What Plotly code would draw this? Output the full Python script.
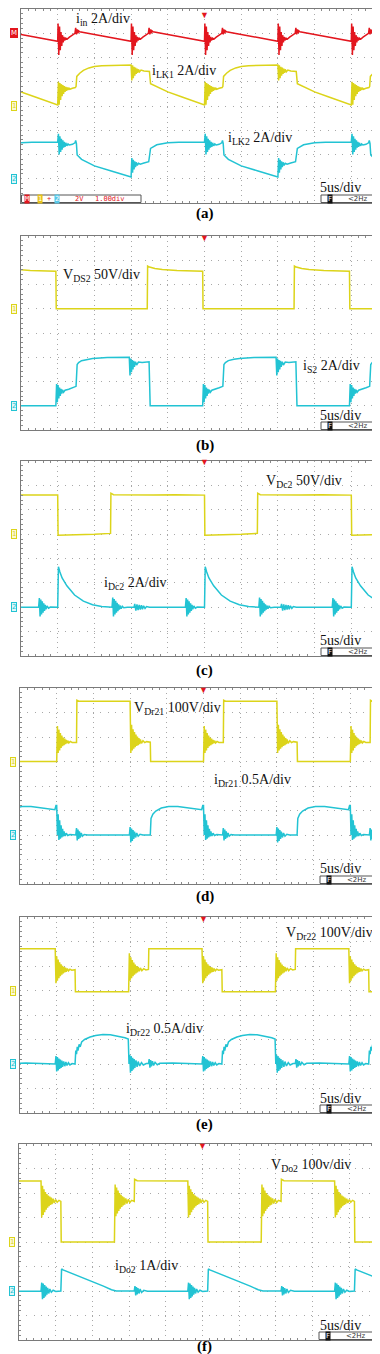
import plotly.graph_objects as go

W, H = 380, 1354

# ---------------- data (time and amplitude in scope divisions) ----------------
# one period of each waveform as (t, value) pairs, and the period start times
IIN = [(0.00, 2.67), (0.01, 3.40), (0.03, 2.10), (0.05, 3.28), (0.07, 2.30), (0.09, 3.05),
       (0.11, 2.48), (0.13, 2.92), (0.15, 2.62), (0.17, 2.85), (0.19, 2.70), (0.22, 2.80),
       (0.26, 2.76), (0.32, 2.84), (0.40, 2.92), (0.47, 3.00), (0.49, 3.22), (0.51, 2.95),
       (0.53, 3.16), (0.55, 3.00), (0.57, 3.10), (0.60, 3.06), (1.00, 2.95), (1.50, 2.81),
       (2.00, 2.67)]
IIN_STARTS = [-1, 1, 3, 5, 7, 9]

ILK1 = [(0.00, 0.04), (0.02, 1.00), (0.04, 0.05), (0.06, 0.95), (0.08, 0.25), (0.10, 0.90),
        (0.12, 0.40), (0.14, 0.86), (0.16, 0.50), (0.18, 0.82), (0.20, 0.58), (0.22, 0.79),
        (0.24, 0.63), (0.26, 0.77), (0.28, 0.66), (0.30, 0.75), (0.33, 0.69), (0.40, 0.73),
        (0.48, 0.76), (0.50, 0.80), (0.52, 1.22), (0.60, 1.35), (0.70, 1.47), (0.85, 1.57),
        (1.00, 1.63), (1.20, 1.66), (1.50, 1.68), (2.00, 1.69), (2.02, 1.05), (2.04, 1.68),
        (2.06, 1.15), (2.08, 1.62), (2.10, 1.25), (2.12, 1.58), (2.14, 1.32), (2.16, 1.54),
        (2.18, 1.37), (2.20, 1.51), (2.23, 1.41), (2.27, 1.48), (2.35, 1.44), (2.50, 1.42),
        (2.53, 0.92), (2.65, 0.84), (3.00, 0.58), (3.37, 0.38), (3.73, 0.19), (4.00, 0.04)]
ILK1_STARTS = [-3, 1, 5, 9]

ILK2 = [(0.00, -1.48), (0.02, -1.15), (0.04, -2.00), (0.06, -1.25), (0.08, -1.90), (0.10, -1.35),
        (0.12, -1.80), (0.14, -1.42), (0.16, -1.72), (0.18, -1.48), (0.20, -1.68), (0.22, -1.52),
        (0.25, -1.64), (0.28, -1.56), (0.32, -1.61), (0.40, -1.58), (0.47, -1.52), (0.49, -1.42),
        (0.51, -1.55), (0.53, -2.02), (0.65, -2.20), (1.00, -2.47), (1.46, -2.68), (2.00, -2.93),
        (2.02, -2.15), (2.04, -2.75), (2.06, -2.22), (2.08, -2.62), (2.10, -2.28), (2.12, -2.52),
        (2.14, -2.32), (2.17, -2.45), (2.20, -2.36), (2.25, -2.40), (2.35, -2.35), (2.48, -2.30),
        (2.53, -1.75), (2.70, -1.60), (3.00, -1.52), (3.30, -1.49), (4.00, -1.48)]
ILK2_STARTS = [-3, 1, 5, 9]

VDS2 = [(0.00, 2.55), (0.01, 1.00), (2.49, 1.00), (2.50, 2.76), (2.55, 2.72), (2.70, 2.66),
        (2.90, 2.62), (3.30, 2.58), (4.00, 2.55)]
VDS2_STARTS = [-3.05, 0.95, 4.95, 8.95]

IS2 = [(0.00, -3.00), (0.02, -2.10), (0.04, -2.85), (0.06, -2.15), (0.08, -2.70), (0.10, -2.25),
       (0.12, -2.60), (0.14, -2.30), (0.16, -2.50), (0.18, -2.34), (0.21, -2.44), (0.25, -2.36),
       (0.35, -2.32), (0.45, -2.26), (0.55, -2.20), (0.58, -1.30), (0.62, -1.22), (0.70, -1.14),
       (0.85, -1.08), (1.00, -1.05), (1.40, -1.01), (2.00, -1.00), (2.02, -1.75), (2.04, -1.05),
       (2.06, -1.62), (2.08, -1.12), (2.10, -1.50), (2.12, -1.15), (2.14, -1.40), (2.17, -1.18),
       (2.20, -1.32), (2.25, -1.20), (2.35, -1.22), (2.54, -1.19), (2.57, -3.00), (4.00, -3.00)]
IS2_STARTS = [-3.05, 0.95, 4.95, 8.95]

VDC2 = [(0.00, 2.60), (0.01, 0.95), (0.50, 0.96), (1.00, 0.99), (1.44, 1.03), (1.45, 2.68),
        (1.52, 2.62), (2.00, 2.61), (2.60, 2.60), (3.20, 2.62), (4.00, 2.60)]
VDC2_STARTS = [-3, 1, 5, 9]

IDC2 = [(0.00, -2.00), (0.02, -0.34), (0.06, -0.55), (0.12, -0.80), (0.25, -1.12), (0.46, -1.50),
        (0.70, -1.75), (0.95, -1.90), (1.20, -1.97), (1.48, -2.00),
        (1.50, -1.60), (1.52, -2.38), (1.54, -1.66), (1.56, -2.30), (1.58, -1.74), (1.60, -2.22),
        (1.62, -1.82), (1.64, -2.16), (1.66, -1.88), (1.68, -2.10), (1.70, -1.93), (1.73, -2.06),
        (1.76, -1.96), (1.80, -2.02), (1.90, -2.00), (2.08, -2.00),
        (2.10, -1.86), (2.13, -2.14), (2.16, -1.88), (2.19, -2.12), (2.22, -1.90), (2.25, -2.10),
        (2.28, -1.92), (2.31, -2.08), (2.34, -1.94), (2.38, -2.05), (2.42, -1.97), (2.50, -2.00),
        (3.48, -2.00),
        (3.50, -1.62), (3.52, -2.38), (3.54, -1.68), (3.56, -2.30), (3.58, -1.76), (3.60, -2.22),
        (3.62, -1.84), (3.64, -2.15), (3.66, -1.90), (3.68, -2.08), (3.71, -1.95), (3.75, -2.04),
        (3.80, -1.99), (4.00, -2.00)]
IDC2_STARTS = [-3, 1, 5, 9]

VDR21 = [(0.00, 1.00), (0.02, 2.45), (0.04, 1.35), (0.06, 2.30), (0.08, 1.45), (0.10, 2.16),
         (0.12, 1.55), (0.14, 2.06), (0.16, 1.62), (0.18, 1.98), (0.20, 1.67), (0.22, 1.93),
         (0.24, 1.71), (0.26, 1.88), (0.28, 1.74), (0.30, 1.85), (0.33, 1.76), (0.37, 1.82),
         (0.42, 1.78), (0.54, 1.78), (0.55, 3.50), (0.60, 3.46), (2.00, 3.46), (2.02, 1.35),
         (2.04, 2.50), (2.06, 1.45), (2.08, 2.32), (2.10, 1.52), (2.12, 2.20), (2.14, 1.58),
         (2.16, 2.10), (2.18, 1.63), (2.20, 2.02), (2.22, 1.67), (2.24, 1.96), (2.26, 1.71),
         (2.28, 1.90), (2.31, 1.74), (2.35, 1.85), (2.40, 1.77), (2.45, 1.81), (2.55, 1.79),
         (2.56, 1.00), (4.00, 1.00)]
VDR21_STARTS = [-3, 1, 5, 9]

IDR21 = [(0.00, -0.80), (0.02, -2.00), (0.04, -1.15), (0.06, -2.20), (0.08, -1.40), (0.10, -2.15),
         (0.12, -1.60), (0.14, -2.10), (0.16, -1.75), (0.18, -2.06), (0.20, -1.85), (0.23, -2.04),
         (0.26, -1.93), (0.30, -2.02), (0.36, -1.98), (0.52, -2.00),
         (0.54, -1.72), (0.56, -2.22), (0.58, -1.78), (0.60, -2.16), (0.62, -1.85), (0.64, -2.10),
         (0.67, -1.92), (0.70, -2.05), (0.75, -1.98), (0.85, -2.00), (1.98, -2.00),
         (2.00, -1.68), (2.02, -2.30), (2.04, -1.74), (2.06, -2.24), (2.08, -1.80), (2.10, -2.16),
         (2.12, -1.86), (2.15, -2.10), (2.18, -1.92), (2.22, -2.05), (2.27, -1.97), (2.35, -2.00),
         (2.55, -2.00), (2.57, -1.32), (2.62, -1.15), (2.70, -1.02), (2.85, -0.90), (3.05, -0.84),
         (3.30, -0.84), (3.60, -0.89), (3.85, -0.94), (3.95, -0.97), (3.98, -0.80), (4.00, -0.80)]
IDR21_STARTS = [-3, 1, 5, 9]

VDR22 = [(0.00, 2.70), (0.02, 1.30), (0.04, 2.40), (0.06, 1.40), (0.08, 2.26), (0.10, 1.50),
         (0.12, 2.15), (0.14, 1.58), (0.16, 2.07), (0.18, 1.65), (0.20, 2.01), (0.22, 1.70),
         (0.24, 1.96), (0.26, 1.74), (0.28, 1.93), (0.30, 1.77), (0.33, 1.90), (0.36, 1.80),
         (0.40, 1.87), (0.45, 1.83), (0.54, 1.85), (0.55, 0.95), (2.00, 0.95), (2.02, 2.52),
         (2.04, 1.40), (2.06, 2.36), (2.08, 1.50), (2.10, 2.24), (2.12, 1.58), (2.14, 2.14),
         (2.16, 1.65), (2.18, 2.06), (2.20, 1.70), (2.22, 2.00), (2.24, 1.74), (2.26, 1.96),
         (2.29, 1.78), (2.32, 1.92), (2.36, 1.81), (2.41, 1.89), (2.47, 1.84), (2.54, 1.86),
         (2.55, 2.70), (4.00, 2.70)]
VDR22_STARTS = [-3.04, 0.96, 4.96, 8.96]

IDR22 = [(0.00, -2.00), (0.02, -1.68), (0.04, -2.30), (0.06, -1.72), (0.08, -2.26), (0.10, -1.78),
         (0.12, -2.20), (0.14, -1.82), (0.16, -2.16), (0.18, -1.86), (0.20, -2.12), (0.23, -1.89),
         (0.26, -2.09), (0.29, -1.92), (0.32, -2.06), (0.36, -1.95), (0.40, -2.04), (0.46, -1.98),
         (0.54, -2.00), (0.56, -1.45), (0.58, -1.60), (0.60, -1.30), (0.62, -1.45), (0.65, -1.20),
         (0.68, -1.30), (0.72, -1.10), (0.80, -1.00), (0.95, -0.90), (1.10, -0.84), (1.30, -0.80),
         (1.50, -0.81), (1.70, -0.86), (1.90, -0.93), (1.99, -0.98), (2.01, -2.00), (2.03, -1.62),
         (2.05, -2.36), (2.07, -1.68), (2.09, -2.28), (2.11, -1.75), (2.13, -2.22), (2.15, -1.80),
         (2.17, -2.16), (2.20, -1.85), (2.23, -2.12), (2.26, -1.90), (2.30, -2.08), (2.35, -1.94),
         (2.40, -2.04), (2.48, -1.98), (2.54, -1.98), (2.56, -1.80), (2.58, -2.15), (2.60, -1.84),
         (2.62, -2.10), (2.65, -1.88), (2.68, -2.06), (2.72, -1.93), (2.78, -2.03), (2.85, -1.97),
         (3.20, -1.96), (4.00, -2.00)]
IDR22_STARTS = [-3.04, 0.96, 4.96, 8.96]

VDO2 = [(0.00, 2.49), (0.02, 1.00), (0.04, 2.30), (0.06, 1.10), (0.08, 2.15), (0.10, 1.22),
        (0.12, 2.04), (0.14, 1.32), (0.16, 1.96), (0.18, 1.40), (0.20, 1.90), (0.22, 1.46),
        (0.24, 1.85), (0.26, 1.51), (0.28, 1.81), (0.30, 1.55), (0.33, 1.77), (0.36, 1.59),
        (0.40, 1.73), (0.44, 1.62), (0.49, 1.70), (0.54, 1.66), (0.55, 0.00), (2.00, 0.00),
        (2.02, 2.35), (2.04, 1.05), (2.06, 2.22), (2.08, 1.16), (2.10, 2.10), (2.12, 1.27),
        (2.14, 2.00), (2.16, 1.36), (2.18, 1.93), (2.20, 1.43), (2.22, 1.87), (2.24, 1.49),
        (2.26, 1.82), (2.28, 1.53), (2.31, 1.78), (2.34, 1.57), (2.38, 1.74), (2.42, 1.61),
        (2.47, 1.70), (2.54, 1.66), (2.55, 2.56), (2.62, 2.50), (4.00, 2.49)]
VDO2_STARTS = [-3.4, 0.6, 4.6, 8.6]

IDO2 = [(0.00, -2.00), (0.02, -1.66), (0.04, -2.34), (0.06, -1.70), (0.08, -2.28), (0.10, -1.76),
        (0.12, -2.22), (0.14, -1.82), (0.16, -2.15), (0.18, -1.87), (0.21, -2.10), (0.24, -1.92),
        (0.28, -2.05), (0.33, -1.97), (0.40, -2.02), (0.54, -2.00), (0.56, -1.10), (0.60, -1.14),
        (0.70, -1.20), (1.00, -1.38), (1.37, -1.57), (1.70, -1.80), (1.92, -1.95), (2.05, -2.00),
        (2.54, -2.00), (2.56, -1.80), (2.58, -2.18), (2.60, -1.84), (2.62, -2.14), (2.64, -1.88),
        (2.67, -2.10), (2.70, -1.92), (2.74, -2.06), (2.80, -1.97), (2.90, -2.01), (4.00, -2.00)]
IDO2_STARTS = [-3.4, 0.6, 4.6, 8.6]

RED, YEL, CYA = "#e3161e", "#dcd41a", "#22c3d3"
SERIF = "Liberation Serif"

# panel geometry in page pixels: (top, bottom, left, right)
PANELS = [
    dict(box=(1, 195, 13, 380), traces=[(IIN, IIN_STARTS, RED), (ILK1, ILK1_STARTS, YEL), (ILK2, ILK2_STARTS, CYA)],
         labels=[("i<sub>in</sub> 2A/div", 95, 12), ("i<sub>LK1</sub> 2A/div", 176, 63), ("i<sub>LK2</sub> 2A/div", 252, 130)],
         chans=[("M", RED, 3.0), ("1", YEL, 0.0), ("2", CYA, -3.0)], cap="(a)", capy=205),
    dict(box=(228, 422, 13, 380), traces=[(VDS2, VDS2_STARTS, YEL), (IS2, IS2_STARTS, CYA)],
         labels=[("V<sub>DS2</sub> 50V/div", 93, 268), ("i<sub>S2</sub> 2A/div", 323, 358)],
         chans=[("1", YEL, 1.0), ("2", CYA, -3.0)], cap="(b)", capy=437),
    dict(box=(453, 648, 13, 380), traces=[(VDC2, VDC2_STARTS, YEL), (IDC2, IDC2_STARTS, CYA)],
         labels=[("V<sub>Dc2</sub> 50V/div", 296, 473), ("i<sub>Dc2</sub> 2A/div", 127, 575)],
         chans=[("1", YEL, 1.0), ("2", CYA, -2.0)], cap="(c)", capy=662),
    dict(box=(680, 876, 12, 379), traces=[(VDR21, VDR21_STARTS, YEL), (IDR21, IDR21_STARTS, CYA)],
         labels=[("V<sub>Dr21</sub> 100V/div", 169, 700), ("i<sub>Dr21</sub> 0.5A/div", 244, 772)],
         chans=[("1", YEL, 1.0), ("2", CYA, -2.0)], cap="(d)", capy=888),
    dict(box=(909, 1105, 12, 379), traces=[(VDR22, VDR22_STARTS, YEL), (IDR22, IDR22_STARTS, CYA)],
         labels=[("V<sub>Dr22</sub> 100V/div", 321, 925), ("i<sub>Dr22</sub> 0.5A/div", 156, 1022)],
         chans=[("1", YEL, 1.0), ("2", CYA, -2.0)], cap="(e)", capy=1116),
    dict(box=(1136, 1332, 11, 378), traces=[(VDO2, VDO2_STARTS, YEL), (IDO2, IDO2_STARTS, CYA)],
         labels=[("V<sub>Do2</sub> 100v/div", 303, 1157), ("i<sub>Do2</sub> 1A/div", 138, 1258)],
         chans=[("1", YEL, 0.0), ("2", CYA, -2.0)], cap="(f)", capy=1338),
]


def expand(pairs, starts):
    xs, ys = [], []
    for s in starts:
        for t, v in pairs:
            xs.append(round(s + t, 4))
            ys.append(v)
    return xs, ys


def px(x):
    return x / W


def py(y):
    return 1 - y / H


fig = go.Figure()
annotations = []
shapes = []
layout = {}

for i, p in enumerate(PANELS, start=1):
    top, bot, left, right = p["box"]
    xa = "x" if i == 1 else f"x{i}"
    ya = "y" if i == 1 else f"y{i}"
    for pairs, starts, col in p["traces"]:
        xs, ys = expand(pairs, starts)
        fig.add_trace(go.Scatter(x=xs, y=ys, mode="lines", xaxis=xa, yaxis=ya,
                                 line=dict(color=col, width=1.5), hoverinfo="skip",
                                 showlegend=False))
    common = dict(showticklabels=False, zeroline=False, showline=True, mirror="allticks",
                  linecolor="#7a7a7a", linewidth=1, ticks="", showgrid=True,
                  gridcolor="#a8a8a8", gridwidth=1, dtick=1, tick0=0, fixedrange=True,
                  minor=dict(dtick=0.2, ticks="inside", ticklen=2, tickcolor="#8a8a8a",
                             tickwidth=1, showgrid=False))
    layout["xaxis" if i == 1 else f"xaxis{i}"] = dict(
        common, domain=[px(left), px(right)], range=[0, 10], anchor=ya, griddash="1px,3.9px")
    layout["yaxis" if i == 1 else f"yaxis{i}"] = dict(
        common, domain=[py(bot), py(top)], range=[-4, 4], anchor=xa, griddash="1px,6.3px")

    # waveform labels
    for txt, lx, ly in p["labels"]:
        annotations.append(dict(text=txt, x=px(lx), y=py(ly), xref="paper", yref="paper",
                                showarrow=False, font=dict(family=SERIF, size=14, color="#111"),
                                xanchor="center", yanchor="middle"))
    annotations.append(dict(text="5us/div", x=px(332), y=py(bot - 15), xref="paper", yref="paper",
                            showarrow=False, font=dict(family=SERIF, size=14, color="#111"),
                            xanchor="center", yanchor="middle"))
    # caption
    annotations.append(dict(text="<b>" + p["cap"] + "</b>", x=px(197), y=py(p["capy"]),
                            xref="paper", yref="paper", showarrow=False,
                            font=dict(family=SERIF, size=15, color="#000"),
                            xanchor="center", yanchor="middle", borderpad=0))
    # channel ground markers
    for txt, col, lvl in p["chans"]:
        annotations.append(dict(text=txt, x=px(left - 7), y=lvl, xref="paper", yref=ya,
                                showarrow=False, font=dict(family="DejaVu Sans", size=7,
                                                           color="#fff" if txt == "M" else col),
                                bgcolor=col if txt == "M" else "#fbf8d8" if col == YEL else "#dff6f8",
                                bordercolor=col, borderwidth=1, borderpad=0,
                                xanchor="center", yanchor="middle"))
    # trigger position marker
    annotations.append(dict(text="▼", x=5, y=4, xref=xa, yref=ya, showarrow=False,
                            font=dict(size=9, color=RED), yanchor="middle", xanchor="center",
                            yshift=-5 if i == 1 else -1, borderpad=0))
    # status box (F <2Hz)
    shapes.append(dict(type="rect", xref="paper", yref="paper", x0=px(right - 67), x1=px(right - 0.5),
                       y0=py(bot - 0.5), y1=py(bot - 8), line=dict(color="#555", width=1),
                       fillcolor="#fff"))
    annotations.append(dict(text="F", x=px(right - 58), y=py(bot - 4.2), xref="paper", yref="paper",
                            showarrow=False, font=dict(family="DejaVu Sans", size=7, color="#fff"),
                            bgcolor="#111", borderpad=0, xanchor="center", yanchor="middle"))
    annotations.append(dict(text="&lt;2Hz", x=px(right - 30), y=py(bot - 4.2), xref="paper",
                            yref="paper", showarrow=False,
                            font=dict(family="DejaVu Sans", size=7, color="#333"),
                            xanchor="center", yanchor="middle"))

# status bar of panel (a)
shapes.append(dict(type="rect", xref="paper", yref="paper", x0=px(13.5), x1=px(133),
                   y0=py(194.5), y1=py(187), line=dict(color="#555", width=1), fillcolor="#fff"))
for txt, x, col, bg in [("M", 19, "#fff", RED), ("1", 32, "#fff", "#e8c21a"), ("+", 41, RED, None),
                        ("2", 49, "#fff", "#58c8e8"), ("2V", 71, RED, None), ("1.00div", 102, RED, None)]:
    a = dict(text=txt, x=px(x), y=py(191), xref="paper", yref="paper", showarrow=False,
             font=dict(family="DejaVu Sans Mono", size=7, color=col), xanchor="center",
             yanchor="middle", borderpad=0)
    if bg:
        a["bgcolor"] = bg
    annotations.append(a)

fig.update_layout(width=W, height=H, margin=dict(l=0, r=0, t=0, b=0),
                  paper_bgcolor="#fff", plot_bgcolor="#fff", showlegend=False,
                  annotations=annotations, shapes=shapes, **layout)

fig.write_html("out.html")
